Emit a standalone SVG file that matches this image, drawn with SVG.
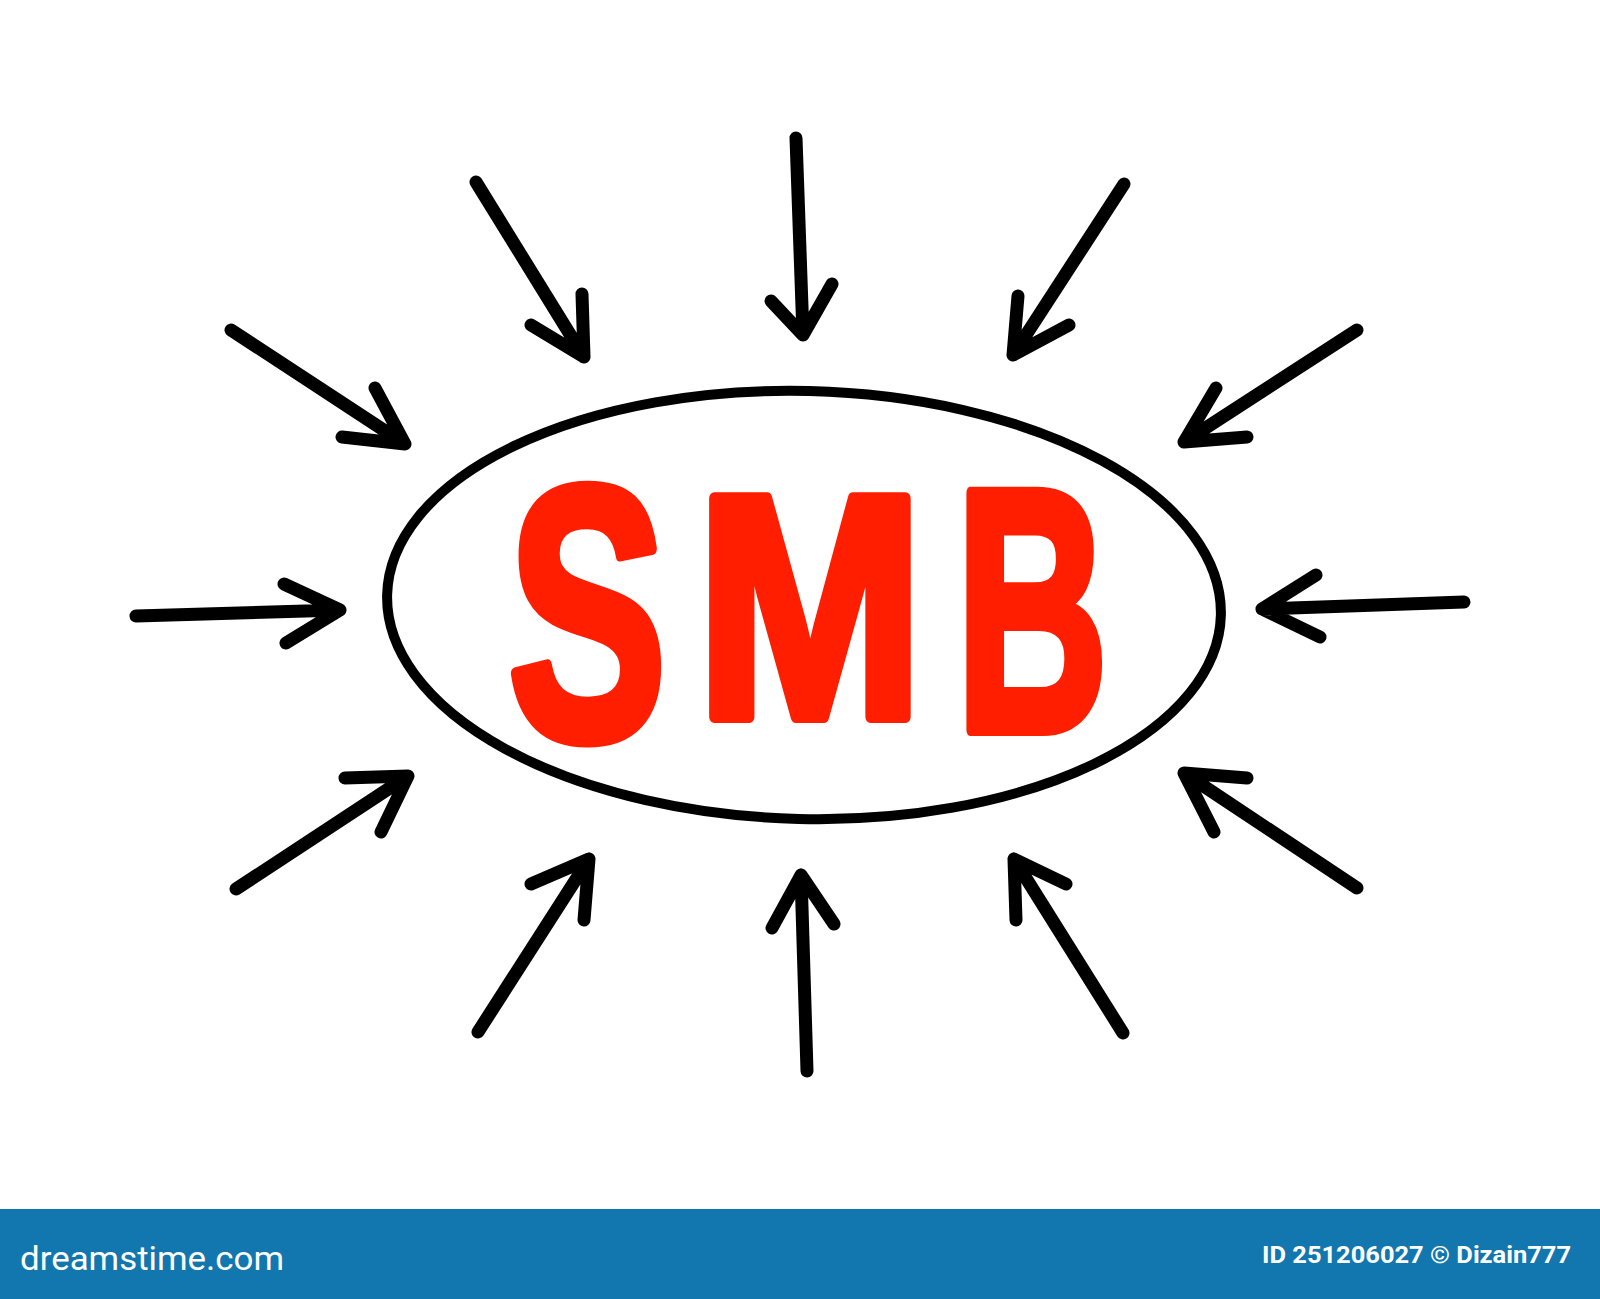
<svg xmlns="http://www.w3.org/2000/svg" width="1600" height="1299" viewBox="0 0 1600 1299">
<style>
.arr{fill:none;stroke:#000;stroke-width:13;stroke-linecap:round;stroke-linejoin:round}
.ell{fill:none;stroke:#000;stroke-width:10}
.smb{font-family:"Liberation Sans",Arial,sans-serif;font-weight:bold;fill:#ff1e00;stroke:#ff1e00;stroke-width:12;stroke-linejoin:round}
.foot{font-family:Roboto,"Liberation Sans",sans-serif;fill:#fff}
</style>
<rect width="1600" height="1299" fill="#fff"/>
<g id="center">
<ellipse class="ell" cx="804" cy="605" rx="417" ry="214" transform="rotate(1.4 804 605)"/>
<text class="smb" transform="translate(508 738) scale(0.66 1)" font-size="360">S</text>
<text class="smb" transform="translate(696 717) scale(0.86 1)" font-size="318">M</text>
<text class="smb" transform="translate(956 730) scale(0.61 1)" font-size="345">B</text>
</g>
<g id="connectors">
<path class="arr" d="M796 138 L803 335 M771 301 L803 335 L832 284"/>
<path class="arr" d="M476 182 L584 357 M531 325 L584 357 L582 294"/>
<path class="arr" d="M1124 184 L1013 355 M1069 325 L1013 355 L1018 296"/>
<path class="arr" d="M231 330 L405 444 M342 437 L405 444 L375 388"/>
<path class="arr" d="M1357 330 L1184 442 M1247 437 L1184 442 L1216 388"/>
<path class="arr" d="M136 616 L340 610 M284 584 L340 610 L286 643"/>
<path class="arr" d="M1464 602 L1262 609 M1316 575 L1262 609 L1320 637"/>
<path class="arr" d="M236 889 L408 776 M345 778 L408 776 L381 832"/>
<path class="arr" d="M1357 888 L1184 773 M1247 778 L1184 773 L1214 832"/>
<path class="arr" d="M478 1032 L589 859 M531 884 L589 859 L584 920"/>
<path class="arr" d="M1123 1033 L1014 859 M1066 884 L1014 859 L1016 920"/>
<path class="arr" d="M807 1071 L801 875 M772 928 L801 875 L834 924"/>
</g>
<g id="footer">
<rect x="0" y="1209" width="1600" height="90" fill="#1177ae"/>
<text class="foot" x="20" y="1270" font-size="33" font-family="'DejaVu Sans',sans-serif" textLength="264" lengthAdjust="spacingAndGlyphs">dreamstime.com</text>
<text class="foot" x="1262" y="1263" font-size="24" font-weight="bold" textLength="309" lengthAdjust="spacingAndGlyphs">ID 251206027 © Dizain777</text>
</g>
</svg>
